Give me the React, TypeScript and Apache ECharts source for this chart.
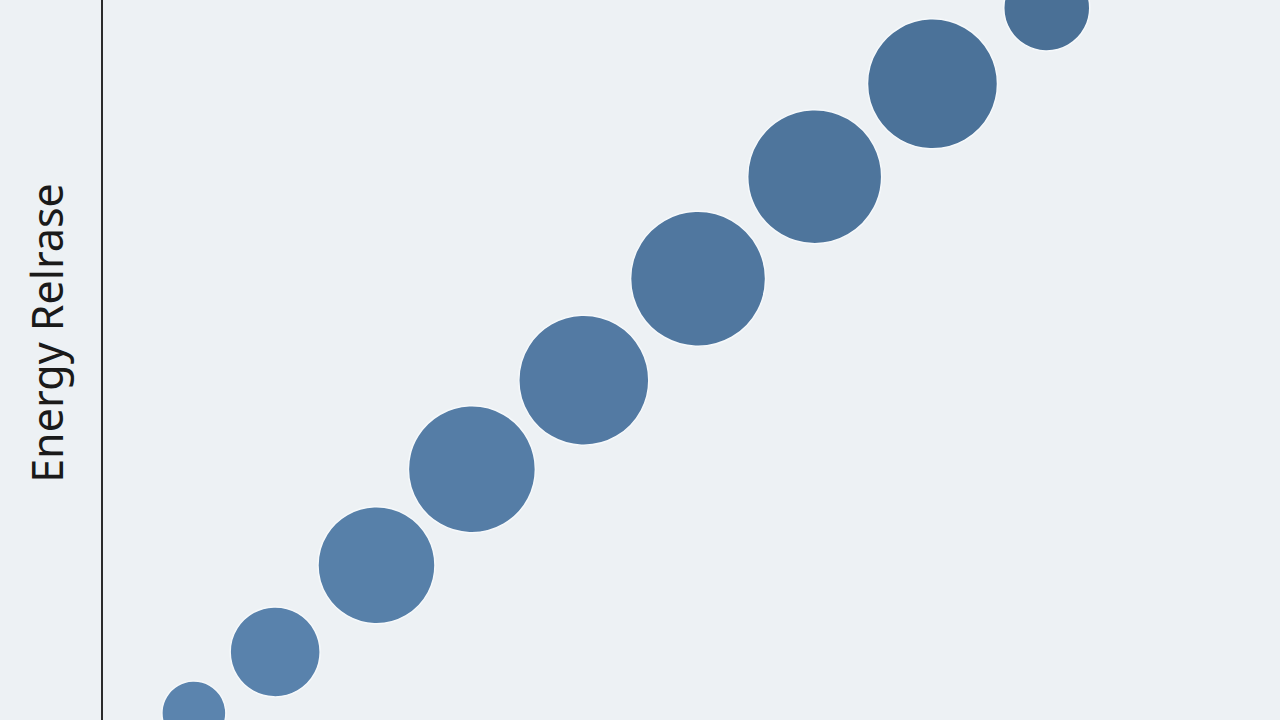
import * as echarts from 'echarts'
import { useEffect, useRef } from 'react'

// bubble positions (x, energy) and bubble diameters
const xValues = [0.78, 1.47, 2.33, 3.14, 4.09, 5.06, 6.05, 7.05, 8.02]
const energyValues = [0.9, 8.8, 20.0, 32.4, 43.9, 57.0, 70.2, 82.2, 92.0]
const bubbleSizes = [64, 90, 117, 127, 130, 135, 134, 130, 86]

export default function App() {
  const chartRef = useRef<HTMLDivElement>(null)

  useEffect(() => {
    document.body.style.margin = '0'
    document.body.style.background = '#edf1f4'
    if (!chartRef.current) return
    const chart = echarts.init(chartRef.current, undefined, { renderer: 'svg' })

    const option: any = {
      animation: false,
      backgroundColor: '#edf1f4',
      grid: { left: 102, right: 0, top: 0, bottom: 0, containLabel: false },
      xAxis: {
        type: 'value',
        min: 0,
        max: 10,
        show: false
      },
      yAxis: {
        type: 'value',
        min: 0,
        max: 100,
        name: 'Energy Relrase',
        nameLocation: 'middle',
        nameGap: 34,
        nameRotate: 90,
        nameTextStyle: {
          fontFamily: 'Noto Sans',
          fontSize: 43,
          color: '#1a1a1a'
        },
        axisLine: { show: true, lineStyle: { color: '#2b2b2b', width: 2 } },
        axisTick: { show: false },
        axisLabel: { show: false },
        splitLine: { show: false }
      },
      visualMap: {
        show: false,
        type: 'continuous',
        dimension: 1,
        min: 0,
        max: 100,
        inRange: { color: ['#5b84ae', '#486e94'] }
      },
      series: [
        {
          type: 'scatter',
          data: xValues.map((x, i) => [x, energyValues[i], bubbleSizes[i]]),
          symbolSize: (d: number[]) => d[2],
          itemStyle: {
            borderColor: '#f6f9fb',
            borderWidth: 1.5,
            opacity: 1
          }
        }
      ]
    }

    chart.setOption(option)
    return () => {
      chart.dispose()
    }
  }, [])

  // the plot is taller than the window: its top is cut off like in the picture
  return (
    <div
      ref={chartRef}
      style={{ position: 'fixed', left: 0, top: '-54px', width: '1280px', height: '774px' }}
    />
  )
}
